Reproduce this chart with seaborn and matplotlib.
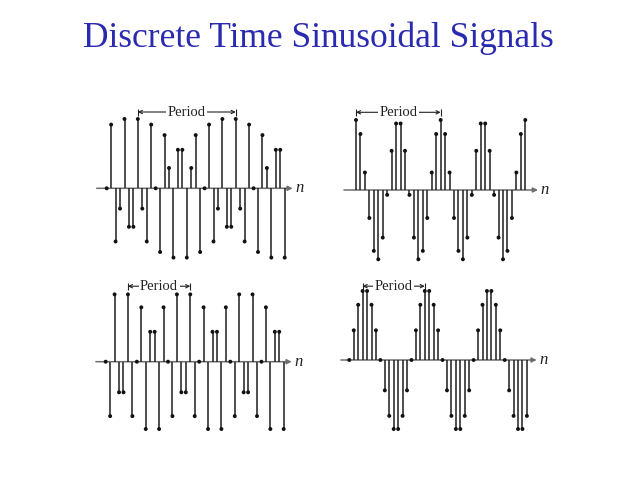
import matplotlib.pyplot as plt
import seaborn as sns
import numpy as np

# sample values (amplitude normalised to 1)
sig_a = [0, 0.91, -0.76, -0.29, 0.99, -0.55, -0.55, 0.99, -0.29, -0.76, 0.91,
         0, -0.91, 0.76, 0.29, -0.99, 0.55, 0.55, -0.99, 0.29, 0.76, -0.91,
         0, 0.91, -0.76, -0.29, 0.99, -0.55, -0.55, 0.99, -0.29, -0.76, 0.91,
         0, -0.91, 0.76, 0.29, -0.99, 0.55, 0.55, -0.99]
sig_b = [1.0, 0.80, 0.25, -0.40, -0.87, -0.99, -0.68, -0.07, 0.56, 0.95,
         0.95, 0.56, -0.07, -0.68, -0.99, -0.87, -0.40, 0.25, 0.80, 1.0,
         0.80, 0.25, -0.40, -0.87, -0.99, -0.68, -0.07, 0.56, 0.95, 0.95,
         0.56, -0.07, -0.68, -0.99, -0.87, -0.40, 0.25, 0.80, 1.0]
sig_c = [0, -0.80, 0.99, -0.45, -0.45, 0.99, -0.80, 0, 0.80, -0.99, 0.44,
         0.44, -0.99, 0.80, 0, -0.80, 0.99, -0.45, -0.45, 0.99, -0.80, 0,
         0.80, -0.99, 0.44, 0.44, -0.99, 0.80, 0, -0.80, 0.99, -0.45, -0.45,
         0.99, -0.80, 0, 0.80, -0.99, 0.44, 0.44, -0.99]
sig_d = [0, 0.43, 0.80, 1.0, 1.0, 0.80, 0.43, 0, -0.44, -0.81, -1.0, -1.0,
         -0.81, -0.44, 0, 0.43, 0.80, 1.0, 1.0, 0.80, 0.43, 0, -0.44, -0.81,
         -1.0, -1.0, -0.81, -0.44, 0, 0.43, 0.80, 1.0, 1.0, 0.80, 0.43, 0,
         -0.44, -0.81, -1.0, -1.0, -0.81]
# period markers (start sample, end sample)
periods = [(7, 29), (0, 19), (5, 19), (3, 17)]
period_label = "Period"
title = "Discrete Time Sinusoidal Signals"

sns.set_theme(style="white")
plt.rcParams["font.family"] = ["Liberation Serif", "DejaVu Serif"]

W, H = 638, 478
fig = plt.figure(figsize=(W / 100, H / 100), dpi=100)

# panel placement in pixels: x of n=0, sample spacing, y of axis, amplitude,
# axis start / end (in samples), y of period label (data units)
panels = [
    dict(sig=sig_a, x0=106.7, dx=4.45, y0=188.3, amp=70, a0=-2.25, a1=41.8, py=1.09),
    dict(sig=sig_b, x0=356.0, dx=4.455, y0=190.0, amp=70, a0=-2.7, a1=40.85, py=1.11),
    dict(sig=sig_c, x0=105.7, dx=4.45, y0=361.7, amp=68, a0=-2.2, a1=41.8, py=1.11),
    dict(sig=sig_d, x0=349.3, dx=4.44, y0=360.0, amp=69, a0=-1.9, a1=42.2, py=1.07),
]

XL, XR, YL = -5, 50, 1.6
for p, (ps, pe) in zip(panels, periods):
    left = (p["x0"] + XL * p["dx"]) / W
    width = (XR - XL) * p["dx"] / W
    bottom = 1 - (p["y0"] + YL * p["amp"]) / H
    height = 2 * YL * p["amp"] / H
    ax = fig.add_axes([left, bottom, width, height])
    ax.set_xlim(XL, XR)
    ax.set_ylim(-YL, YL)
    ax.axis("off")

    n = np.arange(len(p["sig"]))
    vals = np.array(p["sig"])

    # horizontal axis with arrow
    ax.annotate("", xy=(p["a1"], 0), xytext=(p["a0"], 0),
                arrowprops=dict(arrowstyle="-|>", color="#6e6e6e", lw=1.1,
                                mutation_scale=7, shrinkA=0, shrinkB=0))
    ax.text(p["a1"] + 0.6, 0, "n", style="italic", fontsize=12,
            ha="left", va="center", color="#222222")

    # stems and dots
    ax.vlines(n, 0, vals, color="#1e1e1e", lw=1.1, zorder=3)
    sns.scatterplot(x=n, y=vals, ax=ax, s=8, color="#111111",
                    edgecolor="none", zorder=4, legend=False)

    # period marker
    ax.annotate("", xy=(ps, p["py"]), xytext=(pe, p["py"]),
                arrowprops=dict(arrowstyle="<->", color="#222222", lw=0.8,
                                mutation_scale=6, shrinkA=0, shrinkB=0))
    ax.vlines([ps, pe], p["py"] - 0.05, p["py"] + 0.05, color="#222222", lw=0.8)
    ax.text((ps + pe) / 2, p["py"], period_label, fontsize=10.5, ha="center",
            va="center", color="#222222",
            bbox=dict(facecolor="white", edgecolor="none", pad=1.0))

fig.text(0.4997, 1 - 46.7 / H, title, fontsize=25.5, color="#2a2ab0",
         ha="center", va="baseline")

fig.savefig("out.png", dpi=100)
